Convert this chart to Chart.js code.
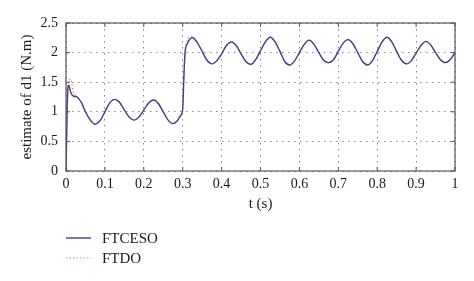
<!DOCTYPE html>
<html>
<head>
<meta charset="utf-8">
<script src="https://cdn.jsdelivr.net/npm/chart.js@4.4.1/dist/chart.umd.min.js"></script>
<style>
  html, body { margin: 0; padding: 0; background: #fff; }
  #wrap { width: 474px; height: 281px; position: relative; }
</style>
</head>
<body>
<div id="wrap"><canvas id="grafico"></canvas></div>
<script>
// time samples (s)
const tempos = [
  0, 0.002, 0.004, 0.007, 0.012, 0.018, 0.028, 0.04, 0.05, 0.0625,
  0.075, 0.0875, 0.1, 0.1125, 0.125, 0.1375, 0.15, 0.1625, 0.175, 0.1875,
  0.2, 0.2125, 0.225, 0.2375, 0.25, 0.2625, 0.275, 0.285, 0.295, 0.3,
  0.303, 0.306, 0.312, 0.325, 0.3375, 0.35, 0.3625, 0.375, 0.3875, 0.4,
  0.4125, 0.425, 0.4375, 0.45, 0.4625, 0.475, 0.4875, 0.5, 0.5125, 0.525,
  0.5375, 0.55, 0.5625, 0.575, 0.5875, 0.6, 0.6125, 0.625, 0.6375, 0.65,
  0.6625, 0.675, 0.6875, 0.7, 0.7125, 0.725, 0.7375, 0.75, 0.7625, 0.775,
  0.7875, 0.8, 0.8125, 0.825, 0.8375, 0.85, 0.8625, 0.875, 0.8875, 0.9,
  0.9125, 0.925, 0.9375, 0.95, 0.9625, 0.975, 0.9875, 1.0
];

const ftceso = [
  0, 0.7, 1.3, 1.45, 1.33, 1.27, 1.25, 1.15, 1.0, 0.86,
  0.79, 0.85, 1.0, 1.15, 1.21, 1.16, 1.03, 0.91, 0.86, 0.91,
  1.03, 1.15, 1.2, 1.14, 1.0, 0.86, 0.8, 0.84, 0.94, 1.05,
  1.6, 2.0, 2.15, 2.25, 2.17, 2.02, 1.87, 1.81, 1.86, 1.98,
  2.12, 2.18, 2.12, 1.98, 1.85, 1.8, 1.88, 2.03, 2.18, 2.26,
  2.18, 2.02, 1.85, 1.79, 1.86, 2.0, 2.14, 2.21, 2.14, 2.0,
  1.87, 1.83, 1.88, 2.02, 2.16, 2.22, 2.15, 2.0, 1.85, 1.79,
  1.86, 2.02, 2.18, 2.26, 2.18, 2.02, 1.87, 1.81, 1.86, 1.99,
  2.12, 2.19, 2.13, 2.0, 1.88, 1.83, 1.88, 2.0
];

const ftdo = [
  0, 0.6, 1.2, 1.5, 1.55, 1.35, 1.26, 1.15, 1.0, 0.86,
  0.79, 0.85, 1.0, 1.15, 1.21, 1.16, 1.03, 0.91, 0.86, 0.91,
  1.03, 1.15, 1.2, 1.14, 1.0, 0.86, 0.8, 0.84, 0.94, 1.05,
  1.5, 1.95, 2.22, 2.27, 2.17, 2.02, 1.87, 1.81, 1.86, 1.98,
  2.12, 2.18, 2.12, 1.98, 1.85, 1.8, 1.88, 2.03, 2.18, 2.26,
  2.18, 2.02, 1.85, 1.79, 1.86, 2.0, 2.14, 2.21, 2.14, 2.0,
  1.87, 1.83, 1.88, 2.02, 2.16, 2.22, 2.15, 2.0, 1.85, 1.79,
  1.86, 2.02, 2.18, 2.26, 2.18, 2.02, 1.87, 1.81, 1.86, 1.99,
  2.12, 2.19, 2.13, 2.0, 1.88, 1.83, 1.88, 2.0
];

const serie = (vals) => tempos.map((t, i) => ({ x: t, y: vals[i] }));

const familia = '"Liberation Serif", "DejaVu Serif", serif';
const fonte = { family: familia, size: 14 };
const fonteTitulo = { family: familia, size: 15 };
const corTexto = '#1a1a1a';
const rotulo = v => String(Number(v.toFixed(1)));

// frame box with inner tick marks (matlab style)
const moldura = {
  id: 'moldura',
  afterDraw(chart) {
    const { ctx, chartArea: a, scales } = chart;
    ctx.save();
    ctx.strokeStyle = '#555';
    ctx.lineWidth = 1.2;
    ctx.strokeRect(a.left, a.top, a.right - a.left, a.bottom - a.top);
    ctx.lineWidth = 1;
    ctx.beginPath();
    scales.x.ticks.forEach(tk => {
      const px = scales.x.getPixelForValue(tk.value);
      ctx.moveTo(px, a.bottom); ctx.lineTo(px, a.bottom - 4);
      ctx.moveTo(px, a.top); ctx.lineTo(px, a.top + 4);
    });
    scales.y.ticks.forEach(tk => {
      const py = scales.y.getPixelForValue(tk.value);
      ctx.moveTo(a.left, py); ctx.lineTo(a.left + 4, py);
      ctx.moveTo(a.right, py); ctx.lineTo(a.right - 4, py);
    });
    ctx.stroke();
    ctx.restore();
  }
};

// stacked legend under the plot, left aligned
const legendaVertical = {
  id: 'legendaVertical',
  afterDraw(chart) {
    const { ctx, chartArea: a } = chart;
    ctx.save();
    ctx.font = `${fonteTitulo.size}px ${fonteTitulo.family}`;
    ctx.textBaseline = 'middle';
    chart.data.datasets.forEach((ds, i) => {
      const y = 238 + i * 20;
      ctx.strokeStyle = ds.borderColor;
      ctx.lineWidth = ds.borderWidth;
      ctx.setLineDash(ds.borderDash || []);
      ctx.beginPath();
      ctx.moveTo(a.left, y);
      ctx.lineTo(a.left + 25, y);
      ctx.stroke();
      ctx.setLineDash([]);
      ctx.fillStyle = corTexto;
      ctx.fillText(ds.label, a.left + 36, y + 1);
    });
    ctx.restore();
  }
};

new Chart(document.getElementById('grafico'), {
  type: 'line',
  data: {
    datasets: [
      {
        label: 'FTCESO',
        data: serie(ftceso),
        borderColor: '#423e8e',
        borderWidth: 1.4,
        pointRadius: 0,
        cubicInterpolationMode: 'monotone'
      },
      {
        label: 'FTDO',
        data: serie(ftdo),
        borderColor: '#e6875a',
        borderWidth: 1.2,
        borderDash: [1.5, 2],
        pointRadius: 0,
        cubicInterpolationMode: 'monotone'
      }
    ]
  },
  options: {
    responsive: true,
    maintainAspectRatio: false,
    animation: false,
    layout: { padding: { top: 23, right: 19, bottom: 65, left: 0 } },
    plugins: {
      legend: { display: false },
      tooltip: { enabled: false }
    },
    scales: {
      x: {
        type: 'linear',
        min: 0,
        max: 1,
        border: { display: false, dash: [1.5, 4.5] },
        grid: { color: '#888', drawTicks: false },
        ticks: { stepSize: 0.1, padding: 5, color: corTexto, font: fonte, maxRotation: 0, callback: rotulo },
        title: { display: true, text: 't (s)', color: corTexto, font: fonteTitulo, padding: { top: 0, bottom: 3 } },
        afterFit: s => { s.height = 45; }
      },
      y: {
        min: 0,
        max: 2.5,
        border: { display: false, dash: [1.5, 4.5] },
        grid: { color: '#888', drawTicks: false },
        ticks: { stepSize: 0.5, padding: 8, color: corTexto, font: fonte, callback: rotulo },
        title: { display: true, text: 'estimate of d1 (N.m)', color: corTexto, font: fonteTitulo, padding: { top: 18, bottom: 0 } },
        afterFit: s => { s.width = 66; }
      }
    }
  },
  plugins: [moldura, legendaVertical]
});
</script>
</body>
</html>
